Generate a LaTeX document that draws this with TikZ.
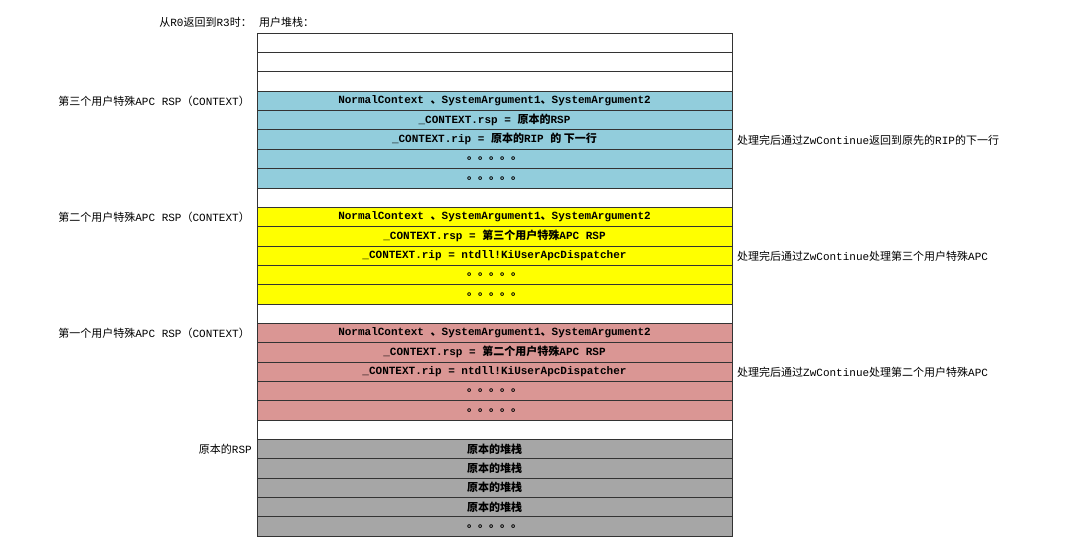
\documentclass[tikz,border=0pt]{standalone}
\usepackage{fontspec}
\setmainfont{Liberation Mono}
\newfontfamily\cjk{Noto Sans CJK SC}
\newcommand{\C}[1]{{\cjk #1}}
\definecolor{cblue}{HTML}{92CDDC}
\definecolor{cyel}{HTML}{FFFF00}
\definecolor{cred}{HTML}{DA9694}
\definecolor{cgray}{HTML}{A6A6A6}
\begin{document}
\begin{tikzpicture}[x=1pt,y=-1pt,
  cell/.style={draw=black!80,line width=0.6pt},
  ct/.style={font=\fontsize{11}{12}\selectfont\bfseries,inner sep=0pt},
  lt/.style={font=\fontsize{11}{12}\selectfont,inner sep=0pt}]
\useasboundingbox (0,0) rectangle (1080,547);
\def\rh{19.35}
% rows: index, color, text
\foreach \i/\c/\t in {
0/white/{},1/white/{},2/white/{},
3/cblue/{NormalContext \C{、}SystemArgument1\C{、}SystemArgument2},
4/cblue/{\_CONTEXT.rsp = \C{原本的}RSP},
5/cblue/{\_CONTEXT.rip = \C{原本的}RIP \C{的 下一行}},
6/cblue/{\C{。。。。。}},7/cblue/{\C{。。。。。}},
8/white/{},
9/cyel/{NormalContext \C{、}SystemArgument1\C{、}SystemArgument2},
10/cyel/{\_CONTEXT.rsp = \C{第三个用户特殊}APC RSP},
11/cyel/{\_CONTEXT.rip = ntdll!KiUserApcDispatcher},
12/cyel/{\C{。。。。。}},13/cyel/{\C{。。。。。}},
14/white/{},
15/cred/{NormalContext \C{、}SystemArgument1\C{、}SystemArgument2},
16/cred/{\_CONTEXT.rsp = \C{第二个用户特殊}APC RSP},
17/cred/{\_CONTEXT.rip = ntdll!KiUserApcDispatcher},
18/cred/{\C{。。。。。}},19/cred/{\C{。。。。。}},
20/white/{},
21/cgray/{\C{原本的堆栈}},22/cgray/{\C{原本的堆栈}},23/cgray/{\C{原本的堆栈}},24/cgray/{\C{原本的堆栈}},
25/cgray/{\C{。。。。。}}}{
  \draw[cell,fill=\c] (257,33+\i*\rh) rectangle (732,33+\i*\rh+\rh);
  \node[ct] (r\i) at (494.5,33+\i*\rh+\rh/2) {\t};
}
\node[lt,anchor=east] (t1) at (252,22) {\C{从}R0\C{返回到}R3\C{时：}};
\node[lt,anchor=west] (t2) at (259,22) {\C{用户堆栈：}};
\node[lt,anchor=east] (l3) at (250,101.5) {\C{第三个用户特殊}APC RSP\C{（}CONTEXT\C{）}};
\node[lt,anchor=east] (l2) at (250,217.6) {\C{第二个用户特殊}APC RSP\C{（}CONTEXT\C{）}};
\node[lt,anchor=east] (l1) at (250,333.7) {\C{第一个用户特殊}APC RSP\C{（}CONTEXT\C{）}};
\node[lt,anchor=east] (l0) at (252,449) {\C{原本的}RSP};
\node[lt,anchor=west] (x3) at (737,140) {\C{处理完后通过}ZwContinue\C{返回到原先的}RIP\C{的下一行}};
\node[lt,anchor=west] (x2) at (737,256) {\C{处理完后通过}ZwContinue\C{处理第三个用户特殊}APC};
\node[lt,anchor=west] (x1) at (737,372) {\C{处理完后通过}ZwContinue\C{处理第二个用户特殊}APC};
\end{tikzpicture}
\end{document}
